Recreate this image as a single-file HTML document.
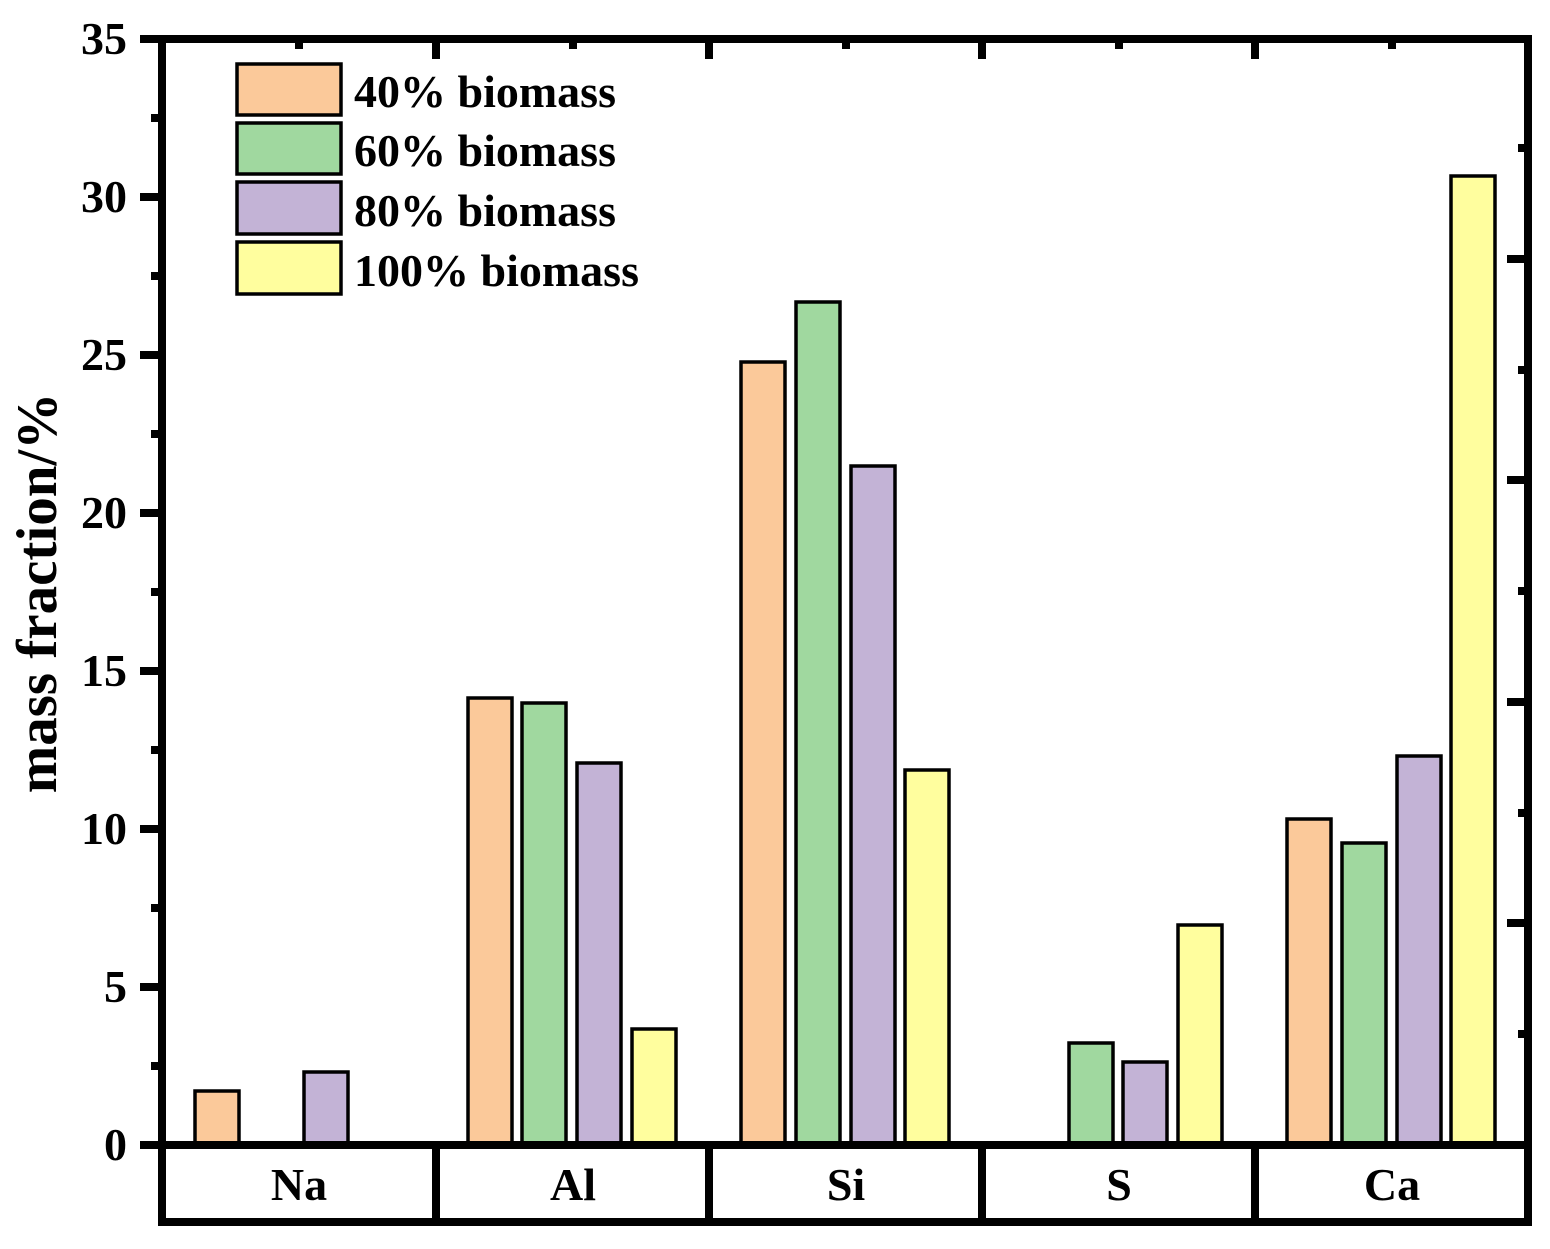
<!DOCTYPE html>
<html><head><style>body{margin:0;background:#fff}svg{display:block}</style></head><body>
<svg width="1550" height="1249" xmlns="http://www.w3.org/2000/svg" font-family="Liberation Serif, serif" font-weight="bold">
<rect width="1550" height="1249" fill="#fff"/>
<g stroke="#000" stroke-width="3.5">
<rect x="195" y="1091" width="44" height="54" fill="#FBC99A"/>
<rect x="304" y="1072" width="44" height="73" fill="#C3B3D6"/>
<rect x="468" y="698" width="44" height="447" fill="#FBC99A"/>
<rect x="522" y="703" width="44" height="442" fill="#A0D89F"/>
<rect x="577" y="763" width="44" height="382" fill="#C3B3D6"/>
<rect x="632" y="1029" width="44" height="116" fill="#FFFE9E"/>
<rect x="741" y="362" width="44" height="783" fill="#FBC99A"/>
<rect x="796" y="302" width="44" height="843" fill="#A0D89F"/>
<rect x="851" y="466" width="44" height="679" fill="#C3B3D6"/>
<rect x="905" y="770" width="44" height="375" fill="#FFFE9E"/>
<rect x="1069" y="1043" width="44" height="102" fill="#A0D89F"/>
<rect x="1123" y="1062" width="44" height="83" fill="#C3B3D6"/>
<rect x="1178" y="925" width="44" height="220" fill="#FFFE9E"/>
<rect x="1287" y="819" width="44" height="326" fill="#FBC99A"/>
<rect x="1342" y="843" width="44" height="302" fill="#A0D89F"/>
<rect x="1397" y="756" width="44" height="389" fill="#C3B3D6"/>
<rect x="1451" y="176" width="44" height="969" fill="#FFFE9E"/>
</g>
<g stroke="#000" stroke-width="8" fill="none">
<line x1="162" y1="35" x2="162" y2="1226"/>
<line x1="1528" y1="35" x2="1528" y2="1226"/>
<line x1="140" y1="39" x2="1532" y2="39"/>
<line x1="140" y1="1145" x2="1532" y2="1145"/>
<line x1="162" y1="1222" x2="1532" y2="1222"/>
<line x1="436" y1="1145" x2="436" y2="1222"/>
<line x1="709" y1="1145" x2="709" y2="1222"/>
<line x1="982" y1="1145" x2="982" y2="1222"/>
<line x1="1255" y1="1145" x2="1255" y2="1222"/>
</g>
<g stroke="#000" stroke-width="8">
<line x1="140" y1="197" x2="162" y2="197"/><line x1="140" y1="355" x2="162" y2="355"/><line x1="140" y1="513" x2="162" y2="513"/><line x1="140" y1="671" x2="162" y2="671"/><line x1="140" y1="829" x2="162" y2="829"/><line x1="140" y1="987" x2="162" y2="987"/>
<line x1="151" y1="118" x2="162" y2="118"/><line x1="151" y1="276" x2="162" y2="276"/><line x1="151" y1="434" x2="162" y2="434"/><line x1="151" y1="592" x2="162" y2="592"/><line x1="151" y1="750" x2="162" y2="750"/><line x1="151" y1="908" x2="162" y2="908"/><line x1="151" y1="1066" x2="162" y2="1066"/>
<line x1="436" y1="39" x2="436" y2="59"/><line x1="709" y1="39" x2="709" y2="59"/><line x1="982" y1="39" x2="982" y2="59"/><line x1="1255" y1="39" x2="1255" y2="59"/>
<line x1="299" y1="39" x2="299" y2="49"/><line x1="573" y1="39" x2="573" y2="49"/><line x1="846" y1="39" x2="846" y2="49"/><line x1="1119" y1="39" x2="1119" y2="49"/><line x1="1392" y1="39" x2="1392" y2="49"/>
<line x1="1507" y1="259" x2="1528" y2="259"/><line x1="1507" y1="480" x2="1528" y2="480"/><line x1="1507" y1="702" x2="1528" y2="702"/><line x1="1507" y1="923" x2="1528" y2="923"/>
<line x1="1518" y1="148" x2="1528" y2="148"/><line x1="1518" y1="370" x2="1528" y2="370"/><line x1="1518" y1="591" x2="1528" y2="591"/><line x1="1518" y1="813" x2="1528" y2="813"/><line x1="1518" y1="1034" x2="1528" y2="1034"/>
</g>
<g font-size="46" text-anchor="end">
<text x="127" y="54">35</text><text x="127" y="212">30</text><text x="127" y="370">25</text><text x="127" y="528">20</text><text x="127" y="686">15</text><text x="127" y="844">10</text><text x="127" y="1002">5</text><text x="127" y="1160">0</text>
</g>
<g font-size="46" text-anchor="middle">
<text x="299" y="1200">Na</text><text x="573" y="1200">Al</text><text x="846" y="1200">Si</text><text x="1119" y="1200">S</text><text x="1392" y="1200">Ca</text>
</g>
<text transform="translate(56,593) rotate(-90)" font-size="57" text-anchor="middle">mass fraction/%</text>
<g stroke="#000" stroke-width="3.5">
<rect x="237" y="64" width="104" height="51" fill="#FBC99A"/>
<rect x="237" y="123" width="104" height="51" fill="#A0D89F"/>
<rect x="237" y="182" width="104" height="52" fill="#C3B3D6"/>
<rect x="237" y="242" width="104" height="52" fill="#FFFE9E"/>
</g>
<g font-size="46">
<text x="354" y="107">40% biomass</text><text x="354" y="166">60% biomass</text><text x="354" y="226">80% biomass</text><text x="354" y="286">100% biomass</text>
</g>
</svg>
</body></html>
